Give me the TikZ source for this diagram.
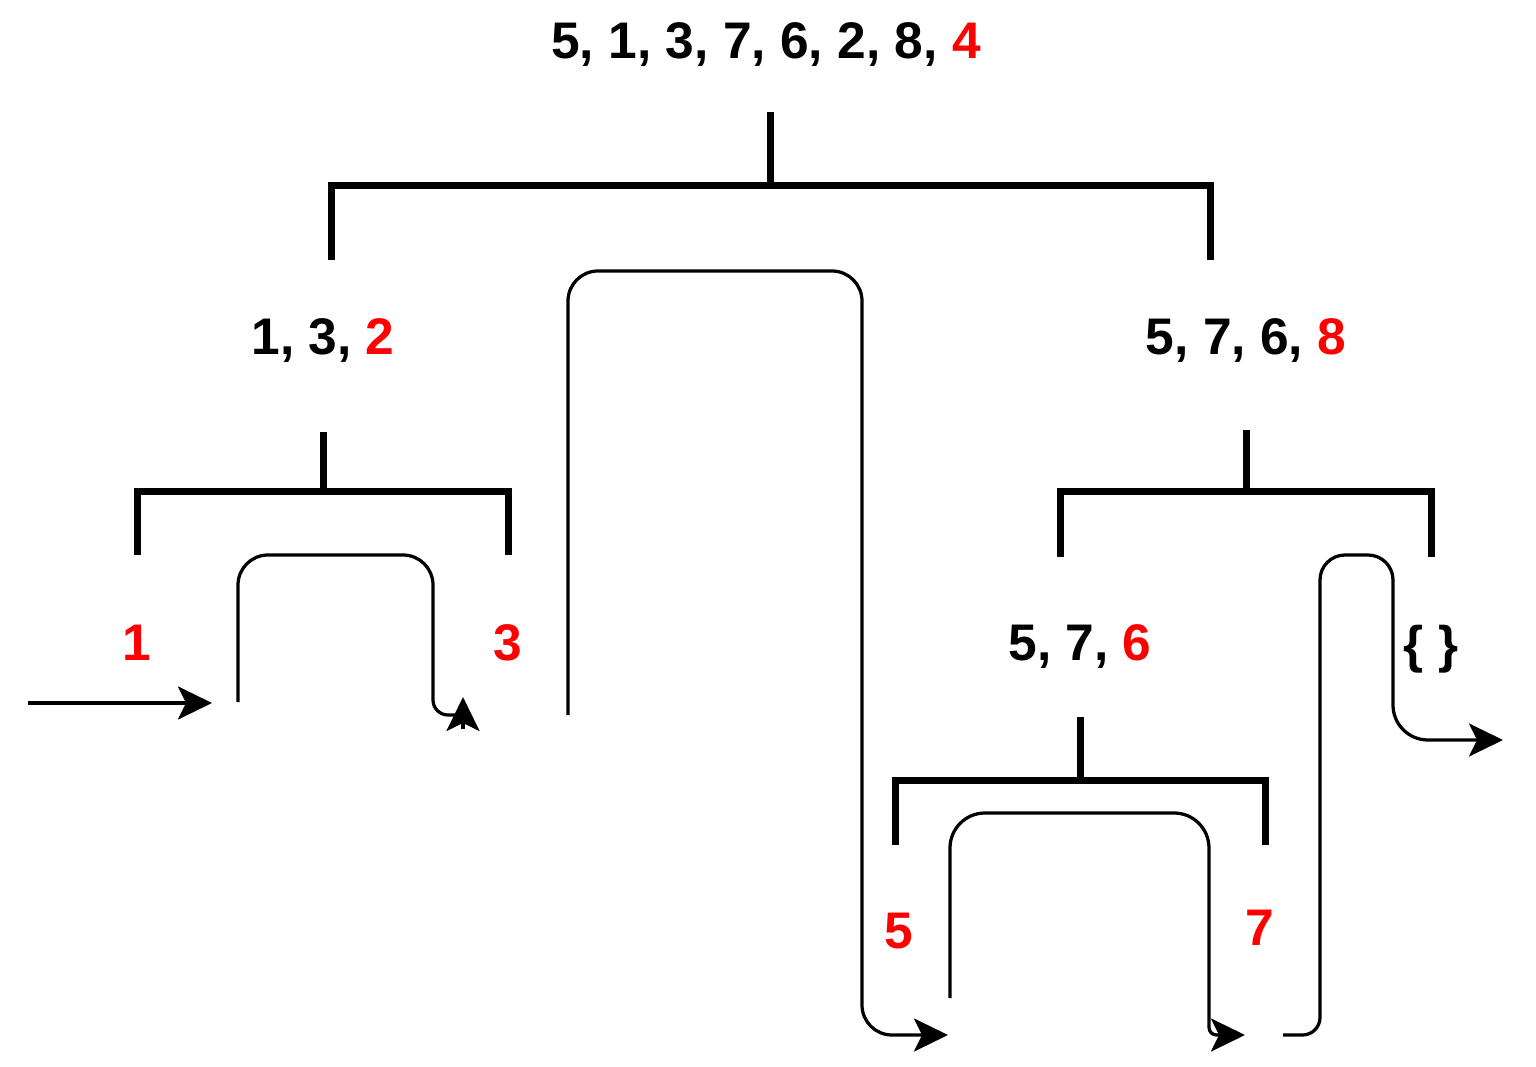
\documentclass[tikz,border=0pt]{standalone}
\usepackage{fontspec}
\setmainfont{Liberation Sans}
\usetikzlibrary{arrows.meta}
\definecolor{numred}{RGB}{255,0,0}
\begin{document}
\begin{tikzpicture}[x=0.02cm,y=-0.02cm,
  lbl/.style={anchor=base,inner sep=0pt,font=\fontsize{29.3}{35}\selectfont\bfseries},
  bracket/.style={line width=0.14cm,line join=miter,line cap=butt},
  flow/.style={line width=0.065cm,rounded corners=0.6cm},
  tip/.style={-{Stealth[length=0.68cm,width=0.66cm,inset=0.16cm]}}]
\useasboundingbox (0,0) rectangle (1536,1067);
% labels
\node[lbl] (root) at (766,59) {5, 1, 3, 7, 6, 2, 8, \textcolor{numred}{4}};
\node[lbl] (left) at (323,355) {1, 3, \textcolor{numred}{2}};
\node[lbl] (right) at (1246,355) {5, 7, 6, \textcolor{numred}{8}};
\node[lbl,text=numred] (one) at (137,661) {1};
\node[lbl,text=numred] (three) at (508,661) {3};
\node[lbl] (rl) at (1080,661) {5, 7, \textcolor{numred}{6}};
\node[lbl] (empty) at (1431,663) {\{ \}};
\node[lbl,text=numred] (five) at (899,948) {5};
\node[lbl,text=numred] (seven) at (1260,945) {7};
% brackets
\draw[bracket] (770,112) -- (770,186);
\draw[bracket] (331,260) -- (331,186) -- (1210,186) -- (1210,260);
\draw[bracket] (323,432) -- (323,492);
\draw[bracket] (137,555) -- (137,492) -- (508,492) -- (508,555);
\draw[bracket] (1246,430) -- (1246,492);
\draw[bracket] (1060,557) -- (1060,492) -- (1431,492) -- (1431,557);
\draw[bracket] (1080,717) -- (1080,780);
\draw[bracket] (895,845) -- (895,780) -- (1265,780) -- (1265,845);
% traversal
\coordinate (s0) at (28,703);
\coordinate (s1) at (212,703);
\draw[line width=0.065cm,tip] (s0) -- (s1);
\draw[flow] (238,702) -- (238,555) -- (433,555) [rounded corners=0.3cm] -- (433,715) -- (457,715);
\draw[line width=0.065cm,tip] (463,729) -- (463,697);
\draw[flow,tip] (568,715) -- (568,271) -- (862,271) -- (862,1035) -- (948,1035);
\draw[flow,tip] (950,998) [rounded corners=0.7cm] -- (950,813) -- (1209,813) [rounded corners=0.15cm] -- (1209,1035) -- (1245,1035);
\draw[flow,tip] (1283,1035) [rounded corners=0.35cm] -- (1320,1035) [rounded corners=0.5cm] -- (1320,555) -- (1393,555) [rounded corners=0.7cm] -- (1393,740) -- (1503,740);
\end{tikzpicture}
\end{document}
